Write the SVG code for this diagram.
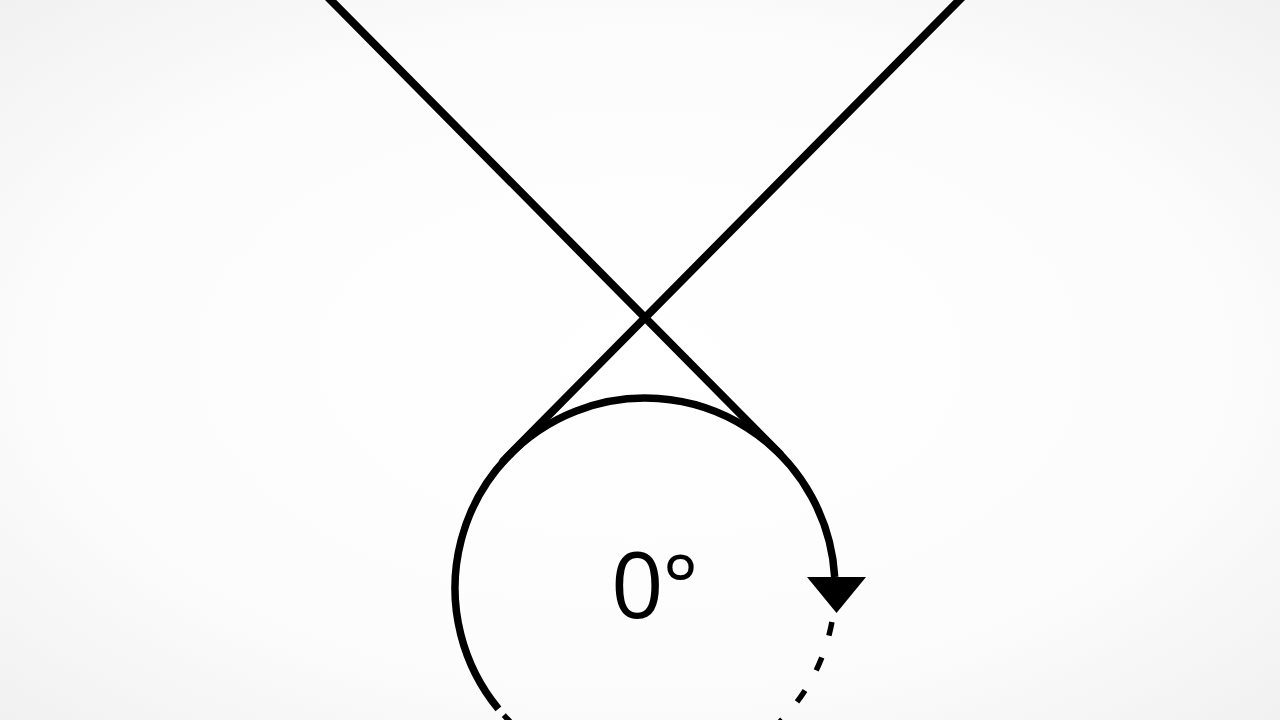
<svg xmlns="http://www.w3.org/2000/svg" width="1280" height="720" viewBox="0 0 1280 720">
<defs>
<radialGradient id="bg" cx="50%" cy="50%" r="75%">
<stop offset="0" stop-color="#ffffff"/>
<stop offset="0.6" stop-color="#fcfcfc"/>
<stop offset="1" stop-color="#efefef"/>
</radialGradient>
<style>
.ln{fill:none;stroke:#000;stroke-width:8;stroke-linecap:round}
.arc{fill:none;stroke:#000;stroke-width:7.5}
.dash{fill:none;stroke:#000;stroke-width:5.5;stroke-dasharray:14 23}
.lbl{font-family:"Open Sans","Noto Sans",sans-serif;font-size:92px;fill:#000}
.sup{font-size:84px}
</style>
</defs>
<rect width="1280" height="720" fill="url(#bg)"/>
<g id="connectors">
<path class="ln" d="M325.7 -5 L780 454"/>
<path class="ln" d="M964.3 -5 L503.3 461"/>
<path class="arc" d="M834.7 577 A190 190 0 1 0 498.4 708.9"/>
<path class="dash" d="M831.9 622 A190 190 0 0 1 645 778"/>
<path class="dash" d="M503.8 715.1 A190 190 0 0 0 645 778"/>
<polygon points="807,577 866,577 836.5,613" fill="#000"/>
</g>
<g id="label">
<text class="lbl" x="611" y="618">0<tspan class="sup" dx="-1" dy="-3">°</tspan></text>
</g>
</svg>
